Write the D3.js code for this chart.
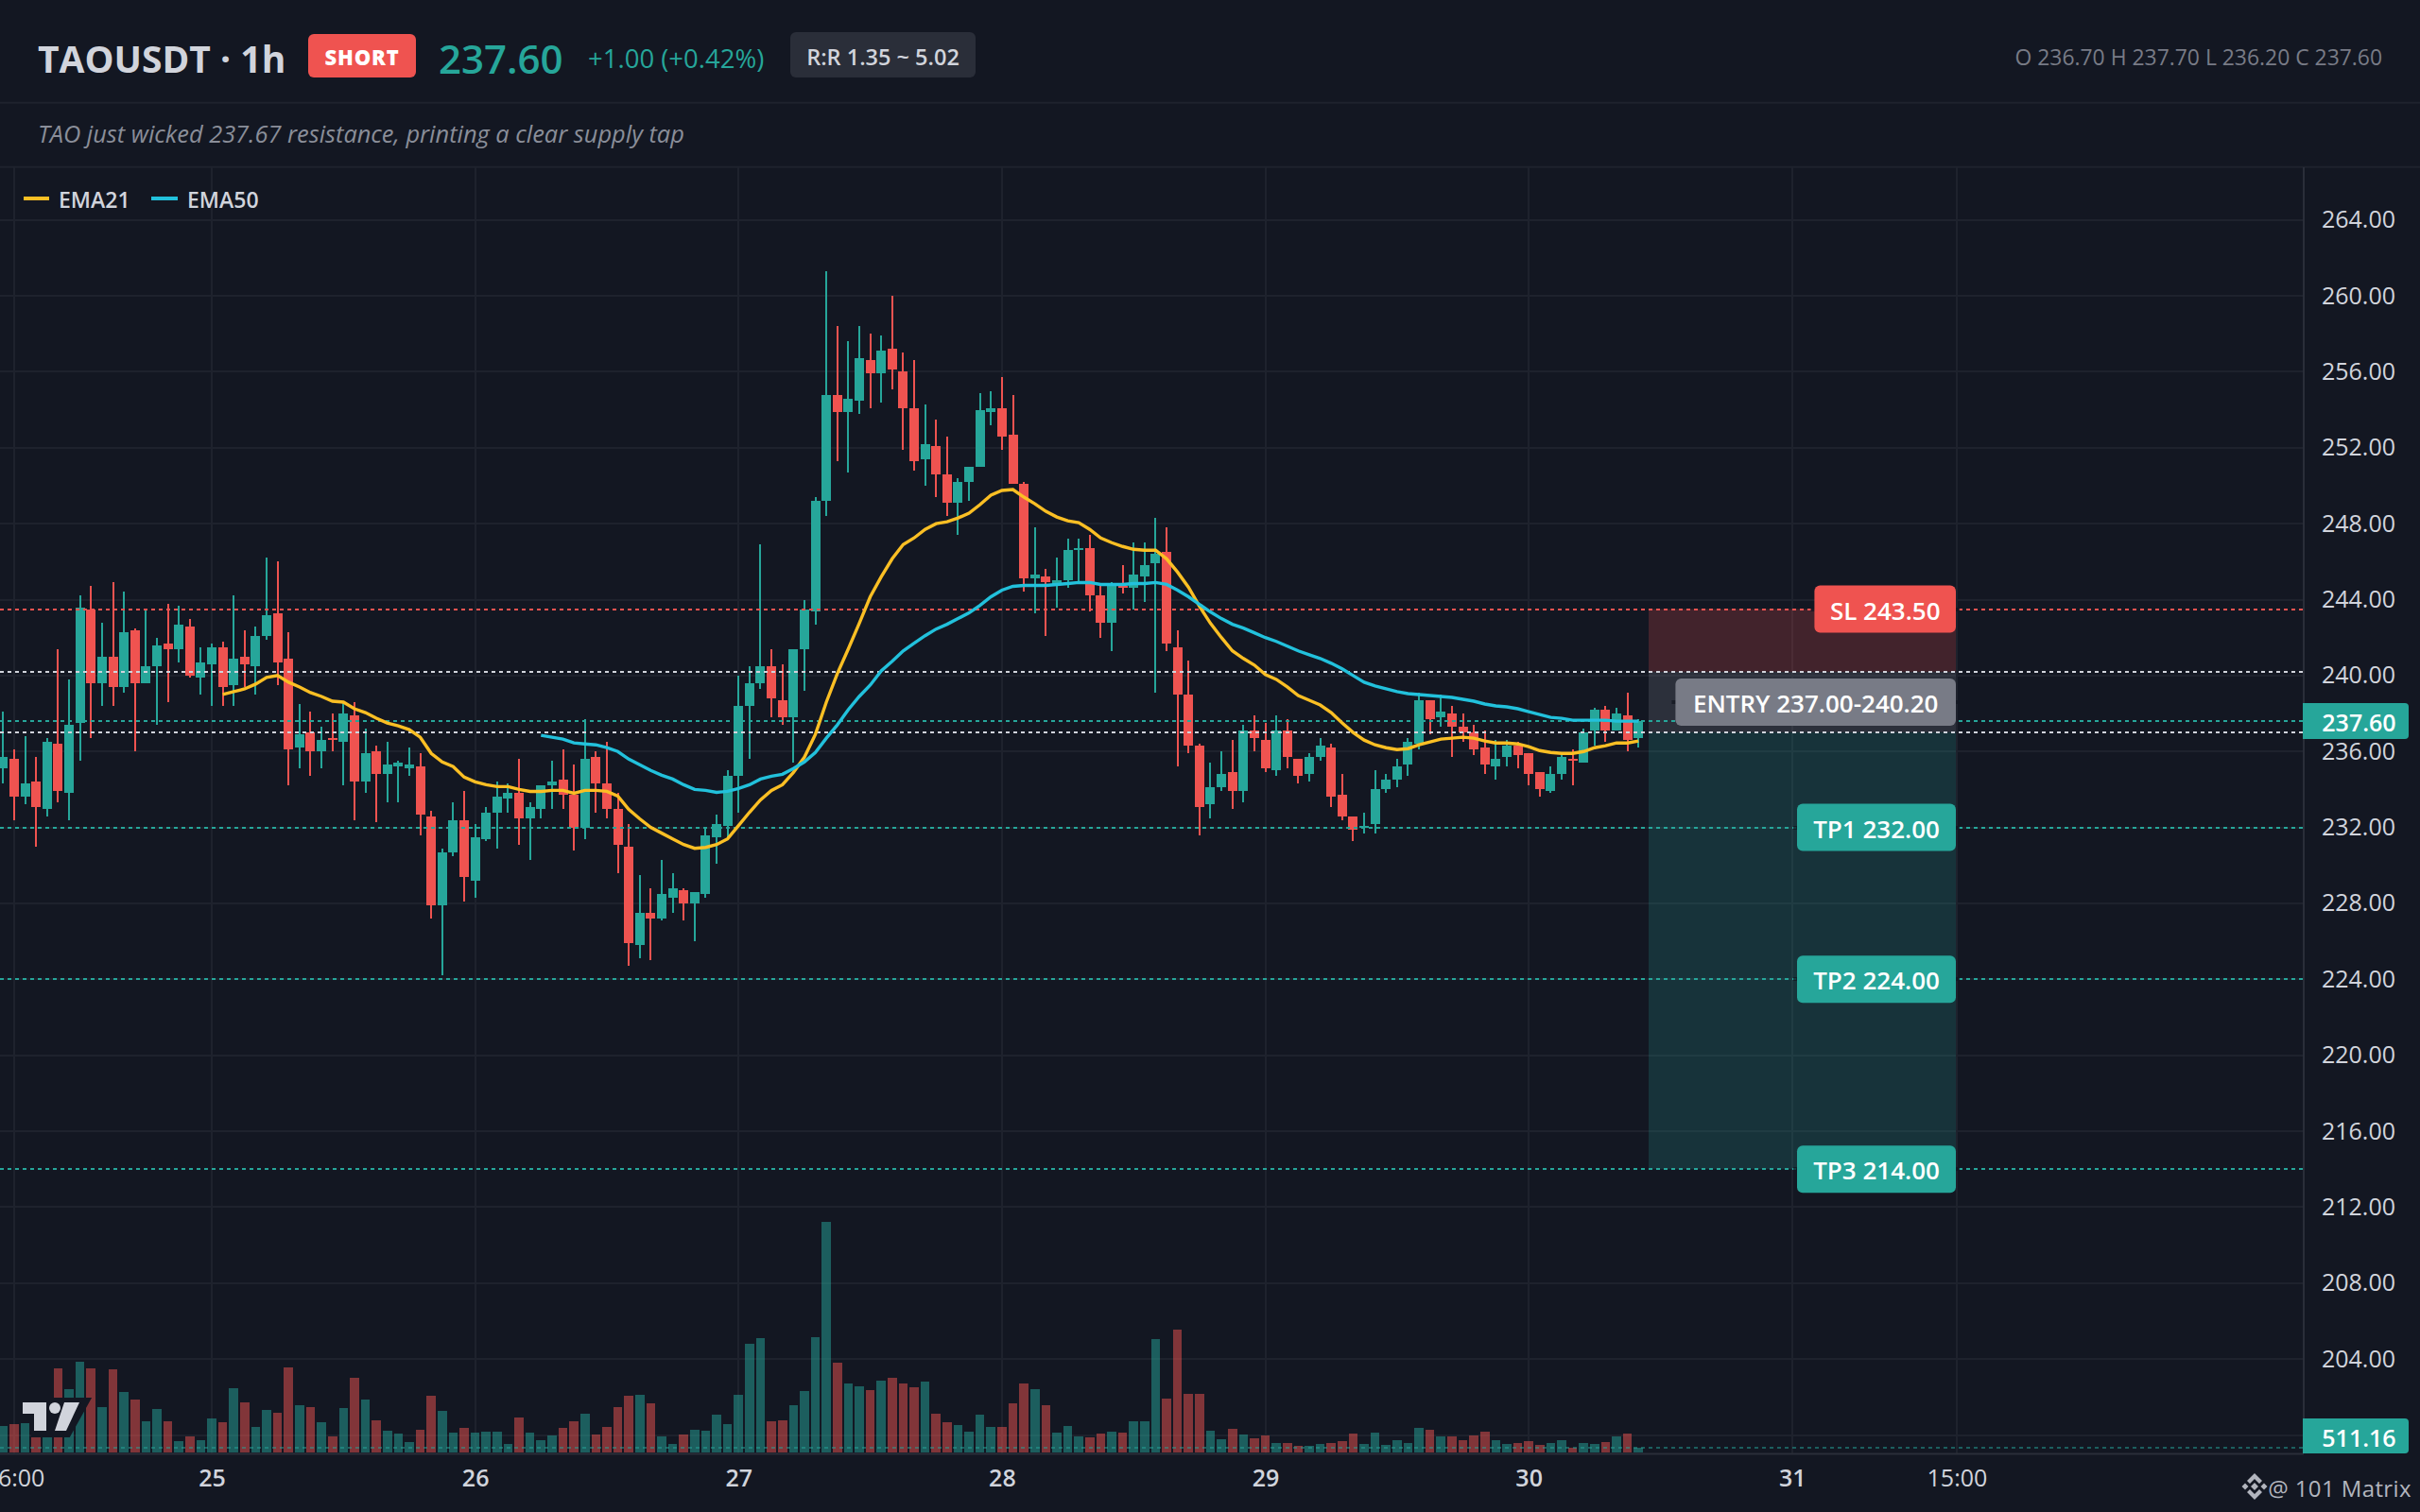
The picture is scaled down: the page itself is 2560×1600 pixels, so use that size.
<!DOCTYPE html>
<html>
<head>
<meta charset="utf-8">
<script src="https://cdnjs.cloudflare.com/ajax/libs/d3/7.8.5/d3.min.js"></script>
<style>
html,body{margin:0;padding:0;background:#131722;}
svg{display:block;}
text{font-family:"Open Sans",sans-serif;}
</style>
</head>
<body>
<div id="chart"></div>
<script>
// Hourly candles; the first bar is 05:00 on the 24th (hour -19 counted from the 25th 00:00)
const firstHour = -19;
const opens = [235.1,235.6,233.6,234.4,233.0,236.4,233.8,237.5,243.5,239.6,241.0,239.4,242.4,239.6,240.5,241.7,241.4,242.6,239.9,
240.6,241.5,239.5,241.0,240.5,242.1,243.3,240.9,236.2,237.0,236.0,236.7,236.5,237.9,234.4,236.0,234.8,235.2,235.1,235.2,
232.6,227.9,230.7,232.4,229.2,231.4,232.8,233.5,233.8,232.5,233.0,234.2,234.5,233.7,232.0,235.7,234.3,233.0,231.0,225.8,
227.5,227.2,228.3,228.7,228.0,228.5,231.5,232.1,234.7,238.4,239.6,240.5,238.7,237.8,241.4,243.4,249.2,254.8,253.9,254.5,
256.6,255.9,257.2,256.0,254.1,251.4,252.1,250.6,249.1,250.2,251.0,253.9,254.1,252.7,250.1,245.1,245.2,244.8,245.0,246.6,
246.7,244.2,242.8,244.7,244.6,245.2,245.9,246.5,241.5,239.0,236.3,233.2,234.1,234.9,233.9,237.1,236.6,235.0,237.1,235.6,
234.8,235.7,236.2,233.7,232.6,232.0,232.2,234.0,234.5,235.3,236.4,238.7,237.8,238.0,237.3,237.0,236.2,235.2,235.7,236.3,
235.9,234.9,233.9,234.8,235.6,235.4,237.1,238.2,237.1,237.9,236.7];
const highs = [238.1,236.1,236.8,235.7,236.7,241.4,239.8,244.2,244.7,242.8,244.9,244.4,242.5,243.5,242.0,243.8,243.7,243.0,241.5,
241.7,241.8,244.2,242.4,242.6,246.2,246.0,242.3,238.5,238.1,237.3,238.0,238.6,238.6,237.2,236.3,236.5,235.5,236.2,235.9,
232.9,230.9,233.3,233.9,232.2,233.1,234.4,234.3,235.6,233.3,234.2,235.5,236.1,235.3,237.7,236.0,236.5,233.8,232.2,229.5,
228.8,230.3,229.6,228.8,228.6,232.0,232.7,235.0,240.0,240.5,246.9,241.4,240.6,241.4,244.0,249.4,261.3,258.4,257.6,258.4,
258.0,257.9,260.0,257.0,256.6,254.3,253.5,252.6,250.4,251.0,254.9,255.0,255.7,254.8,250.2,247.8,245.6,246.2,247.2,247.2,
247.4,244.7,244.9,245.8,247.0,247.0,248.3,247.8,242.4,240.8,236.4,235.4,236.0,236.6,237.4,237.9,237.5,237.9,237.7,235.6,
235.9,236.7,236.4,234.8,232.6,232.8,235.0,234.8,235.6,236.7,239.1,238.7,239.0,238.4,238.0,237.4,237.1,236.6,236.6,236.5,
235.9,234.9,235.2,235.8,236.1,237.2,238.3,238.4,238.3,239.1,237.7];
const lows = [234.3,232.4,233.2,231.0,232.6,233.3,232.4,235.5,236.7,238.4,238.4,239.1,236.0,239.6,237.4,238.6,240.7,239.9,239.0,
238.4,238.4,238.4,239.4,239.0,241.9,239.5,234.2,235.1,234.7,235.1,236.0,234.2,232.4,233.8,232.3,233.3,233.3,234.7,231.6,
227.2,224.2,230.5,228.1,228.3,231.3,230.9,232.8,231.1,230.3,232.5,233.0,233.0,230.8,231.4,232.8,232.5,229.6,224.7,225.1,
225.0,227.1,227.5,227.1,226.0,228.3,230.1,231.5,232.8,235.6,239.3,237.8,237.4,235.4,239.2,242.7,248.4,251.3,250.7,253.8,
254.1,254.4,255.1,251.9,250.8,250.0,249.4,248.4,247.4,249.2,251.0,253.2,251.9,250.1,244.4,243.3,242.1,243.6,244.6,244.8,
243.4,242.0,241.3,244.3,243.5,243.9,239.1,241.3,235.2,235.9,231.6,232.5,233.9,233.0,233.3,236.0,234.9,234.7,235.1,234.3,
234.4,235.5,233.1,232.4,231.3,231.7,231.7,233.8,234.1,234.7,236.1,236.9,237.3,235.7,236.5,235.8,234.8,234.5,235.2,235.1,
234.2,233.6,233.8,234.5,234.2,235.4,236.3,236.5,237.1,236.0,236.2];
const closes = [235.7,233.6,234.3,233.1,236.5,233.9,237.4,243.6,239.6,241.0,239.4,242.3,239.6,240.5,241.6,241.4,242.7,240.0,240.7,
241.5,239.4,240.9,240.6,242.1,243.2,240.7,236.1,236.9,236.0,236.6,236.6,238.0,234.4,235.9,234.8,235.3,235.4,235.3,232.7,
227.9,230.7,232.4,229.4,231.5,232.8,233.6,233.8,232.5,233.1,234.2,234.4,233.7,232.0,235.6,234.3,233.0,231.1,225.9,227.5,
227.2,228.5,228.8,228.0,228.6,231.6,232.2,234.7,238.4,239.6,240.5,238.8,237.8,241.4,243.5,249.2,254.8,253.9,254.6,256.7,
255.9,257.1,256.1,254.1,251.3,252.2,250.6,249.1,250.2,251.0,254.0,254.1,252.6,250.1,245.1,245.3,244.9,245.0,246.6,246.7,
244.2,242.8,244.8,244.6,245.3,245.8,246.4,241.7,239.0,236.3,233.1,234.1,234.8,233.9,237.1,236.7,235.1,237.1,235.7,234.7,
235.7,236.3,233.6,232.6,231.9,232.1,234.0,234.5,235.2,236.5,238.7,237.7,238.1,237.3,237.0,236.1,235.3,235.6,236.3,235.8,
234.8,234.0,234.8,235.7,235.5,237.0,238.2,237.1,238.0,236.6,237.6];
const volumes = [2856,3060,3162,4454,3400,9078,6834,9792,9078,4896,8976,6528,5712,3366,4692,3366,1224,1734,1326,
3672,3264,6936,5406,2754,4590,4284,9180,5100,4896,3264,1734,4794,8058,5712,3468,2346,2040,1122,2448,
6120,4488,2142,2652,2142,2244,2244,918,3774,2142,1326,1836,2652,3366,4182,1938,2754,4896,6120,6222,
5304,1734,918,1938,2448,2346,4080,3060,6222,11730,12342,3366,3468,5100,6630,12444,24888,9690,7446,7140,
6732,7752,8058,7446,7038,7650,4182,3264,2958,2244,4080,2754,2754,5304,7446,6834,5100,2142,2856,1734,
1632,2040,2244,2142,3366,3366,12240,5814,13260,6324,6324,2346,1428,2550,1938,1530,1836,1020,1020,714,
714,918,1020,1224,2040,918,2142,816,1326,1020,2652,2448,1734,1734,1326,1836,2244,1326,918,1020,
1224,816,1020,1326,510,1020,918,1122,1734,2040,511.16];

const ema21Start = 1;
const ema21 = [239.0,239.15,239.3,239.55,239.9,240.0,239.65,239.4,239.1,238.9,238.65,238.6,238.25,238.05,237.75,237.5,237.35,237.15,236.75,
235.9,235.45,235.2,234.65,234.4,234.25,234.15,234.15,234.0,233.9,233.9,233.95,233.95,233.8,233.95,233.95,233.9,233.65,232.95,232.45,
232.0,231.7,231.4,231.1,230.9,230.95,231.1,231.4,232.1,232.8,233.45,233.95,234.25,234.9,235.7,236.9,238.6,240.1,241.4,242.75,
244.15,245.2,246.15,246.9,247.25,247.7,248.0,248.1,248.3,248.55,249.0,249.5,249.75,249.8,249.4,249.05,248.65,248.35,248.15,248.05,
247.7,247.25,247.0,246.8,246.65,246.6,246.6,246.15,245.45,244.65,243.65,242.75,242.0,241.3,240.9,240.55,240.05,239.8,239.4,238.95,
238.7,238.45,238.05,237.5,237.0,236.6,236.35,236.2,236.1,236.15,236.35,236.5,236.65,236.7,236.75,236.7,236.55,236.45,236.45,236.4,
236.25,236.05,235.95,235.9,235.9,236.0,236.2,236.3,236.45,236.45,236.55];
const ema50Start = 30;
const ema50 = [236.85,236.75,236.65,236.45,236.4,236.35,236.2,236.0,235.6,235.3,235.0,234.75,234.55,234.25,234.0,233.95,233.85,233.9,234.05,
234.25,234.55,234.7,234.8,235.1,235.45,235.95,236.7,237.4,238.2,238.9,239.5,240.25,240.75,241.3,241.7,242.1,242.45,242.7,243.0,
243.3,243.7,244.15,244.5,244.7,244.75,244.75,244.75,244.8,244.85,244.9,244.9,244.8,244.8,244.8,244.85,244.85,244.9,244.8,244.5,
244.15,243.75,243.35,243.0,242.7,242.5,242.25,242.0,241.8,241.55,241.3,241.1,240.9,240.65,240.35,240.0,239.65,239.45,239.3,239.15,
239.05,239.0,238.95,238.9,238.85,238.75,238.65,238.5,238.4,238.35,238.25,238.1,237.95,237.8,237.75,237.65,237.65,237.65,237.65,237.6,237.6,237.6];

const priceTicks = [264,260,256,252,248,244,240,236,232,228,224,220,216,212,208,204];
const gridPrices = priceTicks.concat([200]);
const timeTickHours = [-18,0,24,48,72,96,120,144,159];
const timeTickLabels = ["06:00","25","26","27","28","29","30","31","15:00"];
const slLevel = 243.5, entryHigh = 240.2, entryLow = 237.0, lastPrice = 237.6;
const tpLevels = [232,224,214];
const tpNames = ["TP1 232.00","TP2 224.00","TP3 214.00"];
const lastVolume = 511.16;

const UP="#26a69a", DOWN="#ef5350", BG="#131722", GRID="#1e222d", BORDER="#2a2e39", TXT="#d1d4dc";
const W=2560,H=1600;
const bars = opens.map((o,k)=>({h:firstHour+k,o,hi:highs[k],lo:lows[k],c:closes[k],v:volumes[k]}));

const x = d3.scaleLinear().domain([0,144]).range([224,1895.8]);
const y = d3.scaleLinear().domain([264,200]).range([232.7,1518.5]);
const yV = d3.scaleLinear().domain([0,25000]).range([1537,1292.4]);
const plotR=2437, plotT=177, plotB=1538, zoneL=1744, zoneR=2069;

const svg=d3.select("#chart").append("svg").attr("width",W).attr("height",H).attr("viewBox",`0 0 ${W} ${H}`);
svg.append("rect").attr("width",W).attr("height",H).attr("fill",BG);

// header separators
[108.7,176.7].forEach(v=>svg.append("line").attr("x1",0).attr("x2",W).attr("y1",v).attr("y2",v).attr("stroke",GRID).attr("stroke-width",2));

// grid
const grid=svg.append("g").attr("shape-rendering","crispEdges");
grid.selectAll(".gh").data(gridPrices).join("line").attr("x1",0).attr("x2",plotR)
  .attr("y1",d=>Math.round(y(d))).attr("y2",d=>Math.round(y(d))).attr("stroke",GRID).attr("stroke-width",2);
grid.selectAll(".gv").data(timeTickHours).join("line").attr("y1",plotT).attr("y2",plotB)
  .attr("x1",d=>Math.round(x(d))).attr("x2",d=>Math.round(x(d))).attr("stroke",GRID).attr("stroke-width",2);

// zones
const zones=svg.append("g");
function zone(top,bot,c,a){zones.append("rect").attr("x",zoneL).attr("width",zoneR-zoneL).attr("y",y(top)).attr("height",y(bot)-y(top)).attr("fill",c).attr("fill-opacity",a);}
zone(slLevel,entryHigh,DOWN,0.22);
zone(entryHigh,entryLow,"#787b86",0.25);
zone(entryLow,tpLevels[2],UP,0.2);

// volume
svg.append("g").attr("shape-rendering","crispEdges").selectAll("rect").data(bars).join("rect")
  .attr("x",d=>x(d.h)-4.8).attr("width",9.6).attr("y",d=>yV(d.v)).attr("height",d=>yV(0)-yV(d.v))
  .attr("fill",d=>d.c>=d.o?UP:DOWN).attr("fill-opacity",0.5);

// candles
const cg=svg.append("g").attr("shape-rendering","crispEdges");
cg.selectAll("line").data(bars).join("line").attr("x1",d=>x(d.h)).attr("x2",d=>x(d.h))
  .attr("y1",d=>y(d.hi)).attr("y2",d=>y(d.lo)).attr("stroke",d=>d.c>=d.o?UP:DOWN).attr("stroke-width",2);
cg.selectAll("rect").data(bars).join("rect").attr("x",d=>x(d.h)-5).attr("width",10)
  .attr("y",d=>y(Math.max(d.o,d.c))).attr("height",d=>Math.max(2,Math.abs(y(d.o)-y(d.c))))
  .attr("fill",d=>d.c>=d.o?UP:DOWN);

// levels
const lv=svg.append("g").attr("stroke-width",2).attr("stroke-dasharray","4 4").attr("shape-rendering","crispEdges");
function level(p,c){lv.append("line").attr("x1",0).attr("x2",plotR).attr("y1",Math.round(y(p))).attr("y2",Math.round(y(p))).attr("stroke",c);}
level(slLevel,DOWN);level(entryHigh,TXT);level(lastPrice,UP);level(entryLow,TXT);
tpLevels.forEach(p=>level(p,UP));
lv.append("line").attr("x1",0).attr("x2",plotR).attr("y1",Math.round(yV(lastVolume))).attr("y2",Math.round(yV(lastVolume))).attr("stroke",UP).attr("stroke-opacity",0.5);

// EMAs
const lineGen=start=>d3.line().x((d,k)=>x(start+k)).y(d=>y(d));
svg.append("path").attr("d",lineGen(ema21Start)(ema21)).attr("fill","none").attr("stroke","#fbbf24").attr("stroke-width",3.4);
svg.append("path").attr("d",lineGen(ema50Start)(ema50)).attr("fill","none").attr("stroke","#22c1dc").attr("stroke-width",3.4);

// level tags
function tag(txt,price,left,fill){
  const cy=y(price);
  svg.append("rect").attr("x",left-4).attr("width",zoneR-left+8).attr("y",Math.round(cy)-2).attr("height",4).attr("fill",BG).attr("fill-opacity",0.75);
  svg.append("rect").attr("x",left).attr("width",zoneR-left).attr("y",cy-25).attr("height",50).attr("rx",6).attr("fill",fill);
  svg.append("text").attr("x",left+(zoneR-left)/2).attr("y",cy+1).attr("text-anchor","middle").attr("dominant-baseline","central")
    .attr("fill","#fff").attr("font-size",26).attr("font-weight",600).text(txt);
}
tag("SL 243.50",slLevel,1919.4,DOWN);
tag("ENTRY 237.00-240.20",(entryHigh+entryLow)/2,1772.4,"#787b86");
tpLevels.forEach((p,k)=>tag(tpNames[k],p,1901,UP));

// axes
const yAxis=d3.axisRight(y).tickValues(priceTicks).tickFormat(d3.format(".2f")).tickSize(0).tickPadding(0);
const ya=svg.append("g").attr("transform",`translate(2495,0)`).call(yAxis);
ya.select(".domain").remove();
ya.selectAll("text").attr("text-anchor","middle").attr("x",0).attr("fill",TXT).attr("font-size",25).attr("font-family",'"Open Sans",sans-serif');
const xAxis=d3.axisBottom(x).tickValues(timeTickHours).tickFormat((d,k)=>timeTickLabels[k]).tickSize(0).tickPadding(0);
const xa=svg.append("g").attr("transform",`translate(0,1558)`).call(xAxis);
xa.select(".domain").remove();
xa.selectAll("text").attr("fill",TXT).attr("font-size",25).attr("font-weight",d=>d<150&&d>=0?600:400).attr("font-family",'"Open Sans",sans-serif').attr("dy","0.6em");
svg.append("line").attr("x1",plotR).attr("x2",plotR).attr("y1",plotT).attr("y2",plotB).attr("stroke",BORDER).attr("stroke-width",2);
svg.append("line").attr("x1",0).attr("x2",plotR).attr("y1",1538.5).attr("y2",1538.5).attr("stroke",BORDER).attr("stroke-width",2);

// price tags
function ptag(label,top,bot){
  svg.append("path").attr("d",`M2436,${top}H2544a4,4 0 0 1 4,4V${bot-4}a4,4 0 0 1 -4,4H2436Z`).attr("fill",UP);
  svg.append("text").attr("x",2495.5).attr("y",(top+bot)/2+1).attr("text-anchor","middle").attr("dominant-baseline","central")
    .attr("fill","#fff").attr("font-size",25).attr("font-weight",600).text(label);
}
ptag("237.60",y(lastPrice)-19,y(lastPrice)+19);
ptag("511.16",1501,1538);

// header
function t(txt,xp,yp,size,fill,opt={}){
  const e=svg.append("text").attr("x",xp).attr("y",yp).attr("font-size",size).attr("fill",fill).attr("dominant-baseline","central").text(txt);
  if(opt.w)e.attr("font-weight",opt.w);
  if(opt.a)e.attr("text-anchor",opt.a);
  if(opt.i)e.attr("font-style","italic");
  if(opt.ls)e.attr("letter-spacing",opt.ls);
  return e;
}
t("TAOUSDT · 1h",40,61,39,TXT,{w:700});
svg.append("rect").attr("x",326).attr("y",36).attr("width",114).attr("height",46).attr("rx",6).attr("fill",DOWN);
t("SHORT",383,60,22,"#fff",{w:800,a:"middle",ls:0.8});
t("237.60",464,61,42,UP,{w:600});
t("+1.00 (+0.42%)",622,61,27.5,UP,{w:500});
svg.append("rect").attr("x",836).attr("y",34).attr("width",196).attr("height",48).attr("rx",6).attr("fill",BORDER);
t("R:R 1.35 ~ 5.02",934,60,23.5,TXT,{w:600,a:"middle"});
t("O 236.70 H 237.70 L 236.20 C 237.60",2520,60,22.9,"#787b86",{a:"end"});
t("TAO just wicked 237.67 resistance, printing a clear supply tap",40,141,25.4,"#8a8e99",{i:true});

// legend
svg.append("line").attr("x1",25).attr("x2",52).attr("y1",210).attr("y2",210).attr("stroke","#fbbf24").attr("stroke-width",4);
t("EMA21",62,211,23,TXT,{w:600});
svg.append("line").attr("x1",160).attr("x2",188).attr("y1",210).attr("y2",210).attr("stroke","#22c1dc").attr("stroke-width",4);
t("EMA50",198,211,23,TXT,{w:600});

// TradingView mark
const tv=svg.append("g").attr("transform","translate(24,1484)").attr("fill",TXT);
tv.append("path").attr("d","M12,-2H68L48,34H12Z").attr("fill",BG).attr("stroke",BG).attr("stroke-width",6);
tv.append("path").attr("d","M0,0H25V30H12V12H0Z");
tv.append("circle").attr("cx",34).attr("cy",6).attr("r",6);
tv.append("path").attr("d","M44,0H60L46,30H34Z");

// credit
const cr=svg.append("g").attr("transform","translate(2385,1573)").attr("fill","#b2b5be");
cr.append("path").attr("d","M0,-14L8,-6L5,-3L0,-8L-5,-3L-8,-6Z");
cr.append("path").attr("d","M0,14L8,6L5,3L0,8L-5,3L-8,6Z");
cr.append("path").attr("d","M0,-4L4,0L0,4L-4,0Z");
cr.append("path").attr("d","M-10,-3.5L-6.5,0L-10,3.5L-13.5,0Z");
cr.append("path").attr("d","M10,-3.5L13.5,0L10,3.5L6.5,0Z");
svg.append("text").attr("x",2551).attr("y",1574).attr("text-anchor","end").attr("dominant-baseline","central")
  .attr("font-size",24).attr("fill","#b2b5be").attr("letter-spacing",0.4).text("@ 101 Matrix");
</script>
</body>
</html>
